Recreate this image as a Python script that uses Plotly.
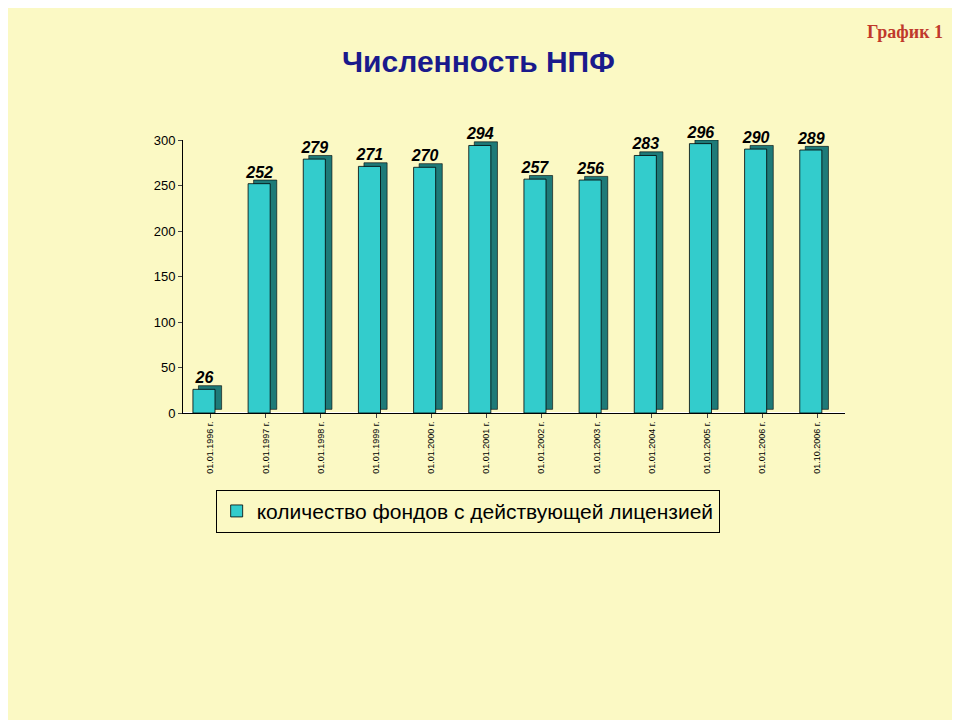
import plotly.graph_objects as go

dates = ['01.01.1996 г.', '01.01.1997 г.', '01.01.1998 г.', '01.01.1999 г.',
         '01.01.2000 г.', '01.01.2001 г.', '01.01.2002 г.', '01.01.2003 г.',
         '01.01.2004 г.', '01.01.2005 г.', '01.01.2006 г.', '01.10.2006 г.']
funds = [26, 252, 279, 271, 270, 294, 257, 256, 283, 296, 290, 289]

BG = '#fbf9c4'

fig = go.Figure()
# dark side face for a rough 3D look
fig.add_trace(go.Bar(
    x=dates, y=funds, base=4, width=0.42, offset=-0.22,
    marker=dict(color='#1e7a78', line=dict(color='#000', width=0.6)),
    showlegend=False, hoverinfo='skip'
))
fig.add_trace(go.Bar(
    x=dates, y=funds, width=0.40, offset=-0.32,
    name='количество фондов с действующей лицензией',
    marker=dict(color='#33cccc', line=dict(color='#000', width=0.8)),
    text=funds, textposition='outside', cliponaxis=False, constraintext='none',
    textfont=dict(family='Arial', size=16, color='#000'),
    texttemplate='<b><i>%{text}</i></b>'
))

fig.update_layout(
    width=960, height=720,
    paper_bgcolor=BG, plot_bgcolor=BG,
    barmode='overlay',
    margin=dict(l=175, r=123, t=132, b=315),
    title=dict(text='<b>Численность НПФ</b>', x=0.49, y=0.94,
               font=dict(family='Arial', size=30, color='#1a1a8c')),
    xaxis=dict(tickangle=-90, tickfont=dict(family='Arial', size=9, color='#000'),
               showline=True, linecolor='#000', ticks='outside', ticklen=4),
    yaxis=dict(range=[0, 300], dtick=50, showgrid=False, showline=True,
               linecolor='#000', ticks='outside', ticklen=4,
               tickfont=dict(family='Arial', size=13, color='#000')),
    legend=dict(x=0.43, y=-0.36, xanchor='center', yanchor='middle',
                bgcolor=BG, bordercolor='#000', borderwidth=1,
                font=dict(family='Arial', size=21, color='#000'),
                traceorder='normal'),
    annotations=[dict(
        text='<b>График 1</b>', xref='paper', yref='paper', x=1.0, y=1.0,
        xanchor='right', yanchor='top', showarrow=False, xshift=100, yshift=120,
        font=dict(family='Liberation Serif', size=18, color='#c0392b'))]
)

fig.write_html('out.html')
